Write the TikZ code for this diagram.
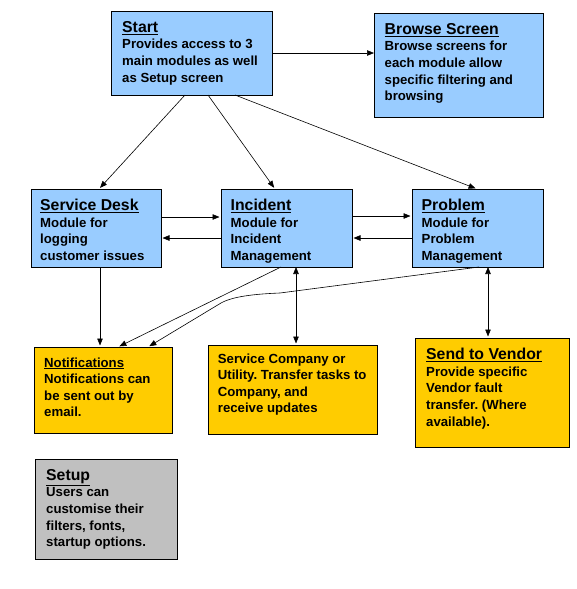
\documentclass[tikz,border=0pt]{standalone}
\usepackage{fontspec}
\setmainfont{Liberation Sans}
\usetikzlibrary{arrows.meta,calc}
\definecolor{boxblue}{HTML}{99CCFF}
\definecolor{boxyellow}{HTML}{FFCC00}
\definecolor{boxgray}{HTML}{C0C0C0}
\newcommand\boxtitle[1]{{\fontsize{15.8}{16.6}\selectfont\underline{#1}}}
\newcommand\smalltitle[1]{\underline{#1}}
\frenchspacing
\begin{document}
\begin{tikzpicture}[x=1pt,y=-1pt,
  box/.style={draw=black,line width=0.8pt,anchor=north west,inner sep=0pt,outer sep=0pt},
  bluebox/.style={box,fill=boxblue},
  yellowbox/.style={box,fill=boxyellow},
  graybox/.style={box,fill=boxgray},
  txt/.style={anchor=north west,inner sep=0pt,align=left,font=\bfseries\fontsize{13.2}{16.6}\selectfont},
  conn/.style={-{Triangle[length=7pt,width=5.5pt]},line width=0.6pt,shorten >=1.5pt},
  dconn/.style={{Triangle[length=7pt,width=5.5pt]}-{Triangle[length=7pt,width=5.5pt]},line width=0.6pt,shorten >=1.5pt}]
\fill[white] (0,0) rectangle (576,589);
\useasboundingbox (0,0) rectangle (576,589);

% boxes
\node[bluebox,minimum width=161pt,minimum height=84pt] (start) at (111,11) {};
\node[bluebox,minimum width=169pt,minimum height=104pt] (browse) at (374,13) {};
\node[bluebox,minimum width=130pt,minimum height=78pt] (sd) at (31,189) {};
\node[bluebox,minimum width=131pt,minimum height=78pt] (inc) at (221,189) {};
\node[bluebox,minimum width=131pt,minimum height=78pt] (prob) at (412,189) {};
\node[yellowbox,minimum width=138pt,minimum height=86pt] (notif) at (34,347) {};
\node[yellowbox,minimum width=169pt,minimum height=89pt] (svc) at (208,345) {};
\node[yellowbox,minimum width=154pt,minimum height=109pt] (vendor) at (415,338) {};
\node[graybox,minimum width=142pt,minimum height=100pt] (setup) at (35,459) {};

% texts
\node[txt] (startT) at ($(start.north west)+(11,10)$) {\boxtitle{Start}\\Provides access to 3\\main modules as well\\as Setup screen};
\node[txt] (browseT) at ($(browse.north west)+(10.5,10)$) {\boxtitle{Browse Screen}\\Browse screens for\\each module allow\\specific filtering and\\browsing};
\node[txt] (sdT) at ($(sd.north west)+(9,10)$) {\boxtitle{Service Desk}\\Module for\\logging\\customer issues};
\node[txt] (incT) at ($(inc.north west)+(9.5,10)$) {\boxtitle{Incident}\\Module for\\Incident\\Management};
\node[txt] (probT) at ($(prob.north west)+(9.5,10)$) {\boxtitle{Problem}\\Module for\\Problem\\Management};
\node[txt] (notifT) at ($(notif.north west)+(10,10.4)$) {\smalltitle{Notifications}\\Notifications can\\be sent out by\\email.};
\node[txt] (svcT) at ($(svc.north west)+(9.7,8.4)$) {Service Company or\\Utility. Transfer tasks to\\Company, and\\receive updates};
\node[txt] (vendorT) at ($(vendor.north west)+(11,10)$) {\boxtitle{Send to Vendor}\\Provide specific\\Vendor fault\\transfer. (Where\\available).};
\node[txt] (setupT) at ($(setup.north west)+(11,10)$) {\boxtitle{Setup}\\Users can\\customise their\\filters, fonts,\\startup options.};

% connectors
\draw[conn,shorten >=0pt] (start.east) -- (start.east -| browse.west);
\draw[conn] ($(start.south west)+(74,0)$) -- ($(sd.north west)+(68,0)$);
\draw[conn] ($(start.south west)+(97,0)$) -- ($(inc.north west)+(54,0)$);
\draw[conn] ($(start.south west)+(124,0)$) -- ($(prob.north west)+(65,0)$);

\draw[conn] ($(sd.north east)+(0,28)$) -- ($(inc.north west)+(0,28)$);
\draw[conn] ($(inc.north west)+(0,49)$) -- ($(sd.north east)+(0,49)$);
\draw[conn] ($(inc.north east)+(0,27)$) -- ($(prob.north west)+(0,27)$);
\draw[conn] ($(prob.north west)+(0,49)$) -- ($(inc.north east)+(0,49)$);

\coordinate (sdn) at ($(sd.south west)+(69,0)$);
\draw[conn] (sdn) -- (sdn |- notif.north);
\coordinate (incs) at ($(inc.south west)+(75,0)$);
\draw[dconn] (incs) -- (incs |- svc.north);
\coordinate (probs) at ($(prob.south west)+(76,0)$);
\draw[dconn] (probs) -- (probs |- vendor.north);

\draw[conn] ($(inc.south west)+(60,0)$) -- ($(notif.north west)+(84,0)$);
\coordinate (bendA) at (280,293);
\coordinate (bendB) at (255,294);
\coordinate (bendC) at (233,296.3);
\coordinate (bendD) at (221,303);
\draw[conn] ($(prob.south west)+(67,0)$) -- (bendA) .. controls (bendB) and (bendC) .. (bendD) -- ($(notif.north west)+(114,0)$);
\end{tikzpicture}
\end{document}
